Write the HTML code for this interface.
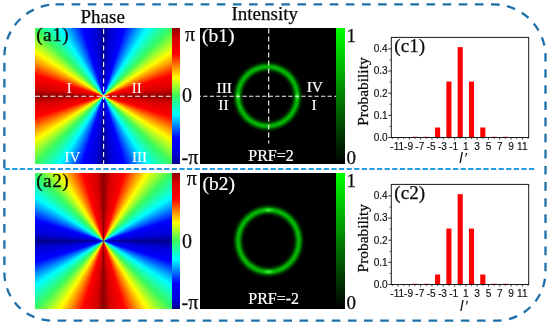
<!DOCTYPE html>
<html><head><meta charset="utf-8"><title>Phase Intensity</title>
<style>
html,body{margin:0;padding:0;background:#fff;}
body{width:550px;height:326px;position:relative;overflow:hidden;font-family:"Liberation Serif",serif;color:#111;}
.ph{position:absolute;left:35px;width:137px;height:136px;}
.cb{position:absolute;left:172px;width:8px;height:136px;background:linear-gradient(to top, rgb(0,0,140) 0.0%, rgb(0,0,215) 7.0%, rgb(0,0,255) 19.0%, rgb(0,255,255) 36.5%, rgb(55,250,95) 50.0%, rgb(255,255,0) 63.5%, rgb(255,0,0) 81.0%, rgb(215,0,0) 93.0%, rgb(140,0,0) 100.0%);}
.bk{position:absolute;left:200px;width:136px;height:136px;background:#000;overflow:hidden;}
.gb{position:absolute;left:336px;width:9.2px;height:136px;background:linear-gradient(to top,#000 0%,#00ff00 100%);}
.ring{position:absolute;left:0;top:0;width:136px;height:136px;}
svg{position:absolute;left:0;top:0;}
.tk{font-family:"Liberation Sans",sans-serif;font-size:10.1px;fill:#111;stroke:#111;stroke-width:0.15px;}
.s{font-family:"Liberation Serif",serif;fill:#0a0a0a;stroke:#0a0a0a;stroke-width:0.25px;}
.si{font-family:"Liberation Sans",sans-serif;font-style:italic;fill:#0a0a0a;}
.w{fill:#fff;stroke:#fff;stroke-width:0.2px;}
.w2{fill:#fff;stroke:#fff;stroke-width:0.1px;}
</style></head><body>
<div class="ph" style="top:28px;background:conic-gradient(from 0deg at 50% 50%, rgb(0,0,140) 0.00deg, rgb(0,0,215) 6.30deg, rgb(0,0,255) 17.10deg, rgb(0,255,255) 32.85deg, rgb(55,250,95) 45.00deg, rgb(255,255,0) 57.15deg, rgb(255,0,0) 72.90deg, rgb(215,0,0) 83.70deg, rgb(140,0,0) 90.00deg, rgb(215,0,0) 96.30deg, rgb(255,0,0) 107.10deg, rgb(255,255,0) 122.85deg, rgb(55,250,95) 135.00deg, rgb(0,255,255) 147.15deg, rgb(0,0,255) 162.90deg, rgb(0,0,215) 173.70deg, rgb(0,0,140) 180.00deg, rgb(0,0,215) 186.30deg, rgb(0,0,255) 197.10deg, rgb(0,255,255) 212.85deg, rgb(55,250,95) 225.00deg, rgb(255,255,0) 237.15deg, rgb(255,0,0) 252.90deg, rgb(215,0,0) 263.70deg, rgb(140,0,0) 270.00deg, rgb(215,0,0) 276.30deg, rgb(255,0,0) 287.10deg, rgb(255,255,0) 302.85deg, rgb(55,250,95) 315.00deg, rgb(0,255,255) 327.15deg, rgb(0,0,255) 342.90deg, rgb(0,0,215) 353.70deg, rgb(0,0,140) 360.00deg)"></div>
<div class="ph" style="top:173px;background:radial-gradient(circle at 68.5px 68px, rgba(105,120,95,0.8) 0, rgba(105,120,95,0.45) 1.3px, rgba(105,120,95,0) 3px), conic-gradient(from 0deg at 50% 50%, rgb(140,0,0) 0.00deg, rgb(215,0,0) 6.30deg, rgb(255,0,0) 17.10deg, rgb(255,255,0) 32.85deg, rgb(55,250,95) 45.00deg, rgb(0,255,255) 57.15deg, rgb(0,0,255) 72.90deg, rgb(0,0,215) 83.70deg, rgb(0,0,140) 90.00deg, rgb(0,0,215) 96.30deg, rgb(0,0,255) 107.10deg, rgb(0,255,255) 122.85deg, rgb(55,250,95) 135.00deg, rgb(255,255,0) 147.15deg, rgb(255,0,0) 162.90deg, rgb(215,0,0) 173.70deg, rgb(140,0,0) 180.00deg, rgb(215,0,0) 186.30deg, rgb(255,0,0) 197.10deg, rgb(255,255,0) 212.85deg, rgb(55,250,95) 225.00deg, rgb(0,255,255) 237.15deg, rgb(0,0,255) 252.90deg, rgb(0,0,215) 263.70deg, rgb(0,0,140) 270.00deg, rgb(0,0,215) 276.30deg, rgb(0,0,255) 287.10deg, rgb(0,255,255) 302.85deg, rgb(55,250,95) 315.00deg, rgb(255,255,0) 327.15deg, rgb(255,0,0) 342.90deg, rgb(215,0,0) 353.70deg, rgb(140,0,0) 360.00deg)"></div>
<div class="cb" style="top:28px"></div>
<div class="cb" style="top:173px"></div>
<div class="bk" style="top:28px"><div class="ring" style="background:radial-gradient(ellipse 2.6px 5.5px at 38.0px 68.4px, rgba(90,255,90,0.9) 0, rgba(40,245,40,0.45) 45%, rgba(0,255,0,0) 100%), radial-gradient(ellipse 2.6px 5.5px at 97.2px 68.4px, rgba(90,255,90,0.9) 0, rgba(40,245,40,0.45) 45%, rgba(0,255,0,0) 100%), radial-gradient(circle at 67.6px 68.4px, rgba(0,0,0,0) 22.80px, rgb(0,16,0) 24.60px, rgb(0,60,0) 26.10px, rgb(1,130,1) 27.60px, rgb(4,176,4) 28.80px, rgb(5,185,5) 29.60px, rgb(4,176,4) 30.40px, rgb(1,130,1) 31.60px, rgb(0,60,0) 33.10px, rgb(0,16,0) 34.60px, rgba(0,0,0,0) 36.40px)"></div></div>
<div class="bk" style="top:173px"><div class="ring" style="transform:scaleY(1.02);transform-origin:68.5px 67.9px;background:radial-gradient(ellipse 6.5px 2.8px at 68.5px 37.6px, rgba(90,255,90,0.9) 0, rgba(40,245,40,0.45) 45%, rgba(0,255,0,0) 100%), radial-gradient(ellipse 6.5px 2.8px at 68.5px 98.2px, rgba(90,255,90,0.9) 0, rgba(40,245,40,0.45) 45%, rgba(0,255,0,0) 100%), radial-gradient(circle at 68.5px 67.9px, rgba(0,0,0,0) 23.50px, rgb(0,16,0) 25.30px, rgb(0,60,0) 26.80px, rgb(1,130,1) 28.30px, rgb(4,176,4) 29.50px, rgb(5,185,5) 30.30px, rgb(4,176,4) 31.10px, rgb(1,130,1) 32.30px, rgb(0,60,0) 33.80px, rgb(0,16,0) 35.30px, rgba(0,0,0,0) 37.10px)"></div></div>
<div class="gb" style="top:28px"></div>
<div class="gb" style="top:173px"></div>
<svg width="550" height="326" viewBox="0 0 550 326">
<path d="M55.5 4.4 H493.5 A52 52 0 0 1 545.5 56.4 V271.7 A49 49 0 0 1 496.5 320.7 H52.4 A48 48 0 0 1 4.4 272.7 V56.4 A52 52 0 0 1 56.4 4.4 Z" fill="none" stroke="#1f70a8" stroke-width="2.3" stroke-dasharray="8.6 7.53"/>
<line x1="4.6" y1="169" x2="536.6" y2="169" stroke="#259de0" stroke-width="1.9" stroke-dasharray="5.2 2.4"/>
<g stroke="#fff" stroke-width="1.15" fill="none" opacity="0.95">
<line x1="35" y1="96.2" x2="172" y2="96.2" stroke-dasharray="5 2.7"/>
<line x1="103.6" y1="29" x2="103.6" y2="164" stroke-dasharray="5.1 3.1"/>
<line x1="196.6" y1="96.2" x2="336" y2="96.2" stroke-dasharray="4.3 2.25"/>
<line x1="268.7" y1="28.5" x2="268.7" y2="143.5" stroke-dasharray="5 3"/>
</g>
<g>
<rect x="435.05" y="127.51" width="5.1" height="9.99" fill="#ff0000"/>
<rect x="446.35" y="81.56" width="5.1" height="55.94" fill="#ff0000"/>
<rect x="457.65" y="47.15" width="5.1" height="90.35" fill="#ff0000"/>
<rect x="468.95" y="81.56" width="5.1" height="55.94" fill="#ff0000"/>
<rect x="480.25" y="127.51" width="5.1" height="9.99" fill="#ff0000"/>
<rect x="412.50" y="136.50" width="5" height="0.8" fill="#ff0000" opacity="0.45"/>
<rect x="423.80" y="136.50" width="5" height="0.8" fill="#ff0000" opacity="0.45"/>
<rect x="491.60" y="136.50" width="5" height="0.8" fill="#ff0000" opacity="0.45"/>
<rect x="502.90" y="136.50" width="5" height="0.8" fill="#ff0000" opacity="0.45"/>
<rect x="391.30" y="37.40" width="137.40" height="100.10" fill="none" stroke="#1a1a1a" stroke-width="1"/>
<line x1="388.30" y1="137.50" x2="391.30" y2="137.50" stroke="#1a1a1a" stroke-width="0.9"/>
<text x="387.70" y="140.90" text-anchor="end" class="tk">0.0</text>
<line x1="389.50" y1="126.43" x2="391.30" y2="126.43" stroke="#1a1a1a" stroke-width="0.7"/>
<line x1="388.30" y1="115.35" x2="391.30" y2="115.35" stroke="#1a1a1a" stroke-width="0.9"/>
<text x="387.70" y="118.75" text-anchor="end" class="tk">0.1</text>
<line x1="389.50" y1="104.28" x2="391.30" y2="104.28" stroke="#1a1a1a" stroke-width="0.7"/>
<line x1="388.30" y1="93.20" x2="391.30" y2="93.20" stroke="#1a1a1a" stroke-width="0.9"/>
<text x="387.70" y="96.60" text-anchor="end" class="tk">0.2</text>
<line x1="389.50" y1="82.13" x2="391.30" y2="82.13" stroke="#1a1a1a" stroke-width="0.7"/>
<line x1="388.30" y1="71.05" x2="391.30" y2="71.05" stroke="#1a1a1a" stroke-width="0.9"/>
<text x="387.70" y="74.45" text-anchor="end" class="tk">0.3</text>
<line x1="389.50" y1="59.98" x2="391.30" y2="59.98" stroke="#1a1a1a" stroke-width="0.7"/>
<line x1="388.30" y1="48.90" x2="391.30" y2="48.90" stroke="#1a1a1a" stroke-width="0.9"/>
<text x="387.70" y="52.30" text-anchor="end" class="tk">0.4</text>
<line x1="392.40" y1="137.50" x2="392.40" y2="138.90" stroke="#1a1a1a" stroke-width="0.8"/>
<line x1="398.05" y1="137.50" x2="398.05" y2="139.70" stroke="#1a1a1a" stroke-width="0.8"/>
<line x1="403.70" y1="137.50" x2="403.70" y2="138.90" stroke="#1a1a1a" stroke-width="0.8"/>
<line x1="409.35" y1="137.50" x2="409.35" y2="139.70" stroke="#1a1a1a" stroke-width="0.8"/>
<line x1="415.00" y1="137.50" x2="415.00" y2="138.90" stroke="#1a1a1a" stroke-width="0.8"/>
<line x1="420.65" y1="137.50" x2="420.65" y2="139.70" stroke="#1a1a1a" stroke-width="0.8"/>
<line x1="426.30" y1="137.50" x2="426.30" y2="138.90" stroke="#1a1a1a" stroke-width="0.8"/>
<line x1="431.95" y1="137.50" x2="431.95" y2="139.70" stroke="#1a1a1a" stroke-width="0.8"/>
<line x1="437.60" y1="137.50" x2="437.60" y2="138.90" stroke="#1a1a1a" stroke-width="0.8"/>
<line x1="443.25" y1="137.50" x2="443.25" y2="139.70" stroke="#1a1a1a" stroke-width="0.8"/>
<line x1="448.90" y1="137.50" x2="448.90" y2="138.90" stroke="#1a1a1a" stroke-width="0.8"/>
<line x1="454.55" y1="137.50" x2="454.55" y2="139.70" stroke="#1a1a1a" stroke-width="0.8"/>
<line x1="460.20" y1="137.50" x2="460.20" y2="138.90" stroke="#1a1a1a" stroke-width="0.8"/>
<line x1="465.85" y1="137.50" x2="465.85" y2="139.70" stroke="#1a1a1a" stroke-width="0.8"/>
<line x1="471.50" y1="137.50" x2="471.50" y2="138.90" stroke="#1a1a1a" stroke-width="0.8"/>
<line x1="477.15" y1="137.50" x2="477.15" y2="139.70" stroke="#1a1a1a" stroke-width="0.8"/>
<line x1="482.80" y1="137.50" x2="482.80" y2="138.90" stroke="#1a1a1a" stroke-width="0.8"/>
<line x1="488.45" y1="137.50" x2="488.45" y2="139.70" stroke="#1a1a1a" stroke-width="0.8"/>
<line x1="494.10" y1="137.50" x2="494.10" y2="138.90" stroke="#1a1a1a" stroke-width="0.8"/>
<line x1="499.75" y1="137.50" x2="499.75" y2="139.70" stroke="#1a1a1a" stroke-width="0.8"/>
<line x1="505.40" y1="137.50" x2="505.40" y2="138.90" stroke="#1a1a1a" stroke-width="0.8"/>
<line x1="511.05" y1="137.50" x2="511.05" y2="139.70" stroke="#1a1a1a" stroke-width="0.8"/>
<line x1="516.70" y1="137.50" x2="516.70" y2="138.90" stroke="#1a1a1a" stroke-width="0.8"/>
<line x1="522.35" y1="137.50" x2="522.35" y2="139.70" stroke="#1a1a1a" stroke-width="0.8"/>
<line x1="528.00" y1="137.50" x2="528.00" y2="138.90" stroke="#1a1a1a" stroke-width="0.8"/>
<text x="397.25" y="150.00" text-anchor="middle" class="tk">-11</text>
<text x="408.55" y="150.00" text-anchor="middle" class="tk">-9</text>
<text x="419.85" y="150.00" text-anchor="middle" class="tk">-7</text>
<text x="431.15" y="150.00" text-anchor="middle" class="tk">-5</text>
<text x="442.45" y="150.00" text-anchor="middle" class="tk">-3</text>
<text x="453.75" y="150.00" text-anchor="middle" class="tk">-1</text>
<text x="465.85" y="150.00" text-anchor="middle" class="tk">1</text>
<text x="477.15" y="150.00" text-anchor="middle" class="tk">3</text>
<text x="488.45" y="150.00" text-anchor="middle" class="tk">5</text>
<text x="499.75" y="150.00" text-anchor="middle" class="tk">7</text>
<text x="511.05" y="150.00" text-anchor="middle" class="tk">9</text>
<text x="522.35" y="150.00" text-anchor="middle" class="tk">11</text>
</g>
<g>
<rect x="435.05" y="274.51" width="5.1" height="9.99" fill="#ff0000"/>
<rect x="446.35" y="228.56" width="5.1" height="55.94" fill="#ff0000"/>
<rect x="457.65" y="194.15" width="5.1" height="90.35" fill="#ff0000"/>
<rect x="468.95" y="228.56" width="5.1" height="55.94" fill="#ff0000"/>
<rect x="480.25" y="274.51" width="5.1" height="9.99" fill="#ff0000"/>
<rect x="412.50" y="283.50" width="5" height="0.8" fill="#ff0000" opacity="0.45"/>
<rect x="423.80" y="283.50" width="5" height="0.8" fill="#ff0000" opacity="0.45"/>
<rect x="491.60" y="283.50" width="5" height="0.8" fill="#ff0000" opacity="0.45"/>
<rect x="502.90" y="283.50" width="5" height="0.8" fill="#ff0000" opacity="0.45"/>
<rect x="391.30" y="184.40" width="137.40" height="100.10" fill="none" stroke="#1a1a1a" stroke-width="1"/>
<line x1="388.30" y1="284.50" x2="391.30" y2="284.50" stroke="#1a1a1a" stroke-width="0.9"/>
<text x="387.70" y="287.90" text-anchor="end" class="tk">0.0</text>
<line x1="389.50" y1="273.43" x2="391.30" y2="273.43" stroke="#1a1a1a" stroke-width="0.7"/>
<line x1="388.30" y1="262.35" x2="391.30" y2="262.35" stroke="#1a1a1a" stroke-width="0.9"/>
<text x="387.70" y="265.75" text-anchor="end" class="tk">0.1</text>
<line x1="389.50" y1="251.28" x2="391.30" y2="251.28" stroke="#1a1a1a" stroke-width="0.7"/>
<line x1="388.30" y1="240.20" x2="391.30" y2="240.20" stroke="#1a1a1a" stroke-width="0.9"/>
<text x="387.70" y="243.60" text-anchor="end" class="tk">0.2</text>
<line x1="389.50" y1="229.13" x2="391.30" y2="229.13" stroke="#1a1a1a" stroke-width="0.7"/>
<line x1="388.30" y1="218.05" x2="391.30" y2="218.05" stroke="#1a1a1a" stroke-width="0.9"/>
<text x="387.70" y="221.45" text-anchor="end" class="tk">0.3</text>
<line x1="389.50" y1="206.98" x2="391.30" y2="206.98" stroke="#1a1a1a" stroke-width="0.7"/>
<line x1="388.30" y1="195.90" x2="391.30" y2="195.90" stroke="#1a1a1a" stroke-width="0.9"/>
<text x="387.70" y="199.30" text-anchor="end" class="tk">0.4</text>
<line x1="392.40" y1="284.50" x2="392.40" y2="285.90" stroke="#1a1a1a" stroke-width="0.8"/>
<line x1="398.05" y1="284.50" x2="398.05" y2="286.70" stroke="#1a1a1a" stroke-width="0.8"/>
<line x1="403.70" y1="284.50" x2="403.70" y2="285.90" stroke="#1a1a1a" stroke-width="0.8"/>
<line x1="409.35" y1="284.50" x2="409.35" y2="286.70" stroke="#1a1a1a" stroke-width="0.8"/>
<line x1="415.00" y1="284.50" x2="415.00" y2="285.90" stroke="#1a1a1a" stroke-width="0.8"/>
<line x1="420.65" y1="284.50" x2="420.65" y2="286.70" stroke="#1a1a1a" stroke-width="0.8"/>
<line x1="426.30" y1="284.50" x2="426.30" y2="285.90" stroke="#1a1a1a" stroke-width="0.8"/>
<line x1="431.95" y1="284.50" x2="431.95" y2="286.70" stroke="#1a1a1a" stroke-width="0.8"/>
<line x1="437.60" y1="284.50" x2="437.60" y2="285.90" stroke="#1a1a1a" stroke-width="0.8"/>
<line x1="443.25" y1="284.50" x2="443.25" y2="286.70" stroke="#1a1a1a" stroke-width="0.8"/>
<line x1="448.90" y1="284.50" x2="448.90" y2="285.90" stroke="#1a1a1a" stroke-width="0.8"/>
<line x1="454.55" y1="284.50" x2="454.55" y2="286.70" stroke="#1a1a1a" stroke-width="0.8"/>
<line x1="460.20" y1="284.50" x2="460.20" y2="285.90" stroke="#1a1a1a" stroke-width="0.8"/>
<line x1="465.85" y1="284.50" x2="465.85" y2="286.70" stroke="#1a1a1a" stroke-width="0.8"/>
<line x1="471.50" y1="284.50" x2="471.50" y2="285.90" stroke="#1a1a1a" stroke-width="0.8"/>
<line x1="477.15" y1="284.50" x2="477.15" y2="286.70" stroke="#1a1a1a" stroke-width="0.8"/>
<line x1="482.80" y1="284.50" x2="482.80" y2="285.90" stroke="#1a1a1a" stroke-width="0.8"/>
<line x1="488.45" y1="284.50" x2="488.45" y2="286.70" stroke="#1a1a1a" stroke-width="0.8"/>
<line x1="494.10" y1="284.50" x2="494.10" y2="285.90" stroke="#1a1a1a" stroke-width="0.8"/>
<line x1="499.75" y1="284.50" x2="499.75" y2="286.70" stroke="#1a1a1a" stroke-width="0.8"/>
<line x1="505.40" y1="284.50" x2="505.40" y2="285.90" stroke="#1a1a1a" stroke-width="0.8"/>
<line x1="511.05" y1="284.50" x2="511.05" y2="286.70" stroke="#1a1a1a" stroke-width="0.8"/>
<line x1="516.70" y1="284.50" x2="516.70" y2="285.90" stroke="#1a1a1a" stroke-width="0.8"/>
<line x1="522.35" y1="284.50" x2="522.35" y2="286.70" stroke="#1a1a1a" stroke-width="0.8"/>
<line x1="528.00" y1="284.50" x2="528.00" y2="285.90" stroke="#1a1a1a" stroke-width="0.8"/>
<text x="397.25" y="297.00" text-anchor="middle" class="tk">-11</text>
<text x="408.55" y="297.00" text-anchor="middle" class="tk">-9</text>
<text x="419.85" y="297.00" text-anchor="middle" class="tk">-7</text>
<text x="431.15" y="297.00" text-anchor="middle" class="tk">-5</text>
<text x="442.45" y="297.00" text-anchor="middle" class="tk">-3</text>
<text x="453.75" y="297.00" text-anchor="middle" class="tk">-1</text>
<text x="465.85" y="297.00" text-anchor="middle" class="tk">1</text>
<text x="477.15" y="297.00" text-anchor="middle" class="tk">3</text>
<text x="488.45" y="297.00" text-anchor="middle" class="tk">5</text>
<text x="499.75" y="297.00" text-anchor="middle" class="tk">7</text>
<text x="511.05" y="297.00" text-anchor="middle" class="tk">9</text>
<text x="522.35" y="297.00" text-anchor="middle" class="tk">11</text>
</g>
<text x="80.50" y="23.30" font-size="19.00" class="s" >Phase</text>
<text x="231.50" y="20.40" font-size="19.00" class="s" >Intensity</text>
<text x="36.20" y="40.80" font-size="19.30" class="s" letter-spacing="0.5">(a1)</text>
<text x="36.20" y="186.50" font-size="19.30" class="s" letter-spacing="0.5">(a2)</text>
<text x="202.10" y="42.00" font-size="19.50" class="s w" >(b1)</text>
<text x="202.60" y="189.50" font-size="19.50" class="s w" >(b2)</text>
<text x="394.30" y="51.80" font-size="19.10" class="s" >(c1)</text>
<text x="394.30" y="198.60" font-size="19.10" class="s" >(c2)</text>
<text x="185.00" y="40.70" font-size="20.00" class="s" >π</text>
<text x="182.00" y="102.30" font-size="20.00" class="s" >0</text>
<text x="181.50" y="164.40" font-size="20.00" class="s" >-π</text>
<text x="186.70" y="185.20" font-size="20.00" class="s" >π</text>
<text x="182.00" y="247.60" font-size="20.00" class="s" >0</text>
<text x="181.50" y="309.40" font-size="20.00" class="s" >-π</text>
<text x="346.50" y="41.90" font-size="19.00" class="s" >1</text>
<text x="346.60" y="164.30" font-size="19.00" class="s" >0</text>
<text x="346.50" y="186.60" font-size="19.00" class="s" >1</text>
<text x="346.60" y="309.20" font-size="19.00" class="s" >0</text>
<text x="66.80" y="93.00" font-size="15.00" class="s w2" >I</text>
<text x="131.80" y="93.00" font-size="15.00" class="s w2" >II</text>
<text x="64.60" y="161.70" font-size="15.00" class="s w2" >IV</text>
<text x="132.00" y="161.70" font-size="15.00" class="s w2" >III</text>
<text x="216.50" y="92.60" font-size="15.50" class="s w" >III</text>
<text x="218.30" y="109.70" font-size="15.50" class="s w" >II</text>
<text x="306.70" y="92.30" font-size="15.50" class="s w" >IV</text>
<text x="311.40" y="109.70" font-size="15.50" class="s w" >I</text>
<text x="248.30" y="161.30" font-size="16.00" class="s w" >PRF=2</text>
<text x="248.30" y="304.40" font-size="16.00" class="s w" >PRF=-2</text>
<text transform="translate(368,125.8) rotate(-90)" font-size="15.4" class="s">Probability</text>
<text transform="translate(368,272.4) rotate(-90)" font-size="15.4" class="s">Probability</text>
<text x="459.20" y="162.60" font-size="15.00" class="si" letter-spacing="1.5">l′</text>
<text x="460.00" y="310.80" font-size="15.00" class="si" letter-spacing="1.5">l′</text>
</svg>
</body></html>
